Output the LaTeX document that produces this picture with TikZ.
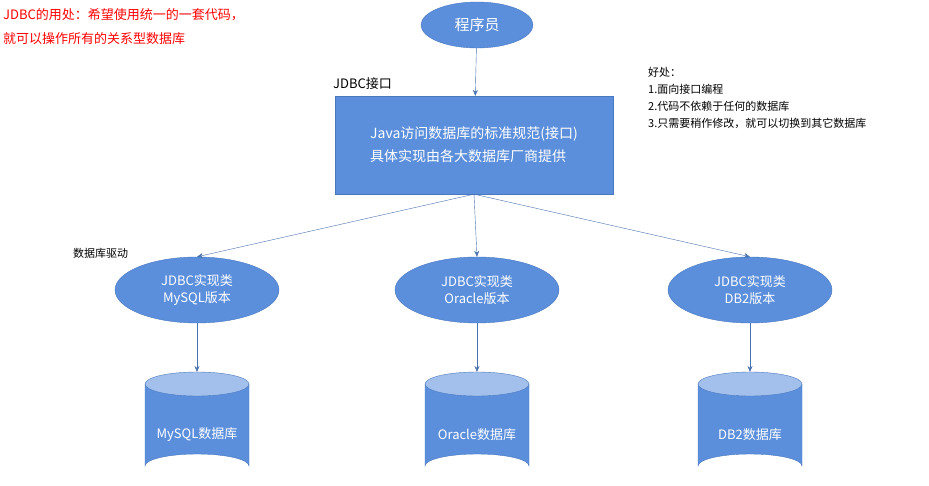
\documentclass[tikz,border=0pt]{standalone}
\usepackage{fontspec}
\setmainfont{Noto Sans CJK SC}
\usetikzlibrary{shapes.geometric,arrows.meta}
\definecolor{bf}{HTML}{5B8FDC}
\definecolor{bd}{HTML}{4A78BE}
\definecolor{bt}{HTML}{A3C0EC}
\begin{document}
\begin{tikzpicture}[x=1pt,y=-1pt,
 el/.style={ellipse,fill=bf,draw=bd,text=white,align=center,inner sep=0pt},
 arr/.style={draw=bf!80!black,-{Stealth[length=6pt,width=5pt]}},
 note/.style={anchor=west,inner sep=0pt,font=\fontsize{11}{13}\selectfont}]
\useasboundingbox (0,0) rectangle (929,486);
\node[el,minimum width=112,minimum height=46,font=\fontsize{15}{18}\selectfont] (p) at (477,25) {程序员};
\node[note,font=\fontsize{13}{15}\selectfont] (ji) at (333,84) {JDBC接口};
\node[fill=bf,draw=bd,minimum width=278,minimum height=98,text=white,align=left,font=\fontsize{14}{23}\selectfont] (r) at (474,145) {Java访问数据库的标准规范(接口)\\具体实现由各大数据库厂商提供};
\draw[arr] (p) -- (r);
\node[note,text=red,align=left,font=\fontsize{13}{24}\selectfont,anchor=north west] (red) at (3,8) {JDBC的用处：希望使用统一的一套代码，\\就可以操作所有的关系型数据库};
\node[note,align=left,anchor=north west,font=\fontsize{11}{17}\selectfont] (good) at (648,67) {好处：\\1.面向接口编程\\2.代码不依赖于任何的数据库\\3.只需要稍作修改，就可以切换到其它数据库};
\node[note] (drv) at (73,253) {数据库驱动};
\foreach \n/\x/\t/\c in {m/197/MySQL版本/MySQL数据库, o/477/Oracle版本/Oracle数据库, d/750/DB2版本/DB2数据库}{
 \node[el,minimum width=164,minimum height=66,font=\fontsize{13}{17}\selectfont] (\n) at (\x,290) {JDBC实现类\\\t};
 \draw[arr] (r.south) -- (\n.north);
 \fill[bf,draw=bd] (\x-52,384) -- (\x-52,466) arc[start angle=180,end angle=360,x radius=52,y radius=12] -- (\x+52,384) -- cycle;
 \fill[bt,draw=bd] (\x,384) ellipse[x radius=52,y radius=12];
 \coordinate (\n t) at (\x,372);
 \node[text=white,font=\fontsize{13}{16}\selectfont] (\n c) at (\x,435) {\c};
 \draw[arr] (\n.south) -- (\n t);
}
\end{tikzpicture}
\end{document}
